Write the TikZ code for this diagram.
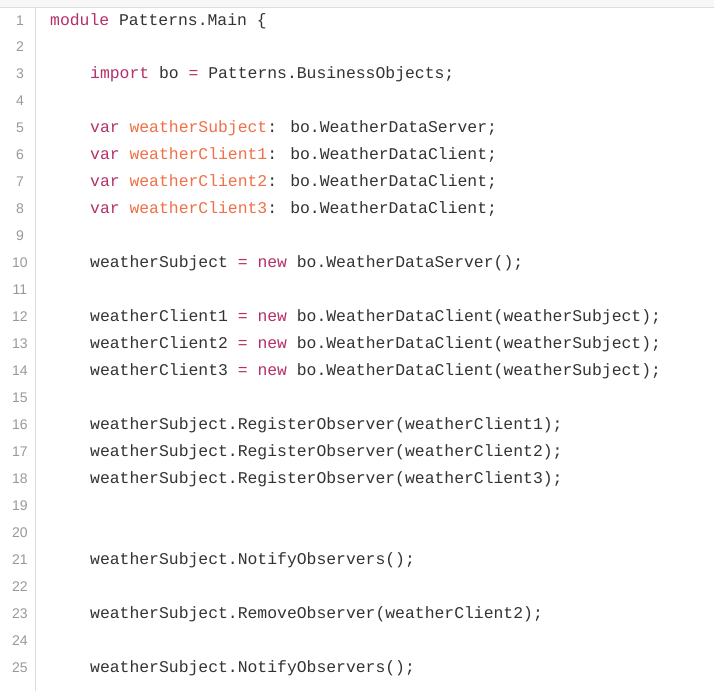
\documentclass[tikz,border=0pt]{standalone}
\usepackage{fontspec}
\newfontfamily\codefont{Liberation Mono}
\newfontfamily\numfont{Liberation Sans}
\definecolor{kw}{HTML}{B5306A}
\definecolor{vn}{HTML}{F07048}
\definecolor{tx}{HTML}{333333}
\definecolor{ln}{HTML}{999999}
\definecolor{rule}{HTML}{DDDDDD}
\newcommand{\K}[1]{\textcolor{kw}{#1}}
\newcommand{\V}[1]{\textcolor{vn}{#1}}
\begin{document}
\begin{tikzpicture}[x=1pt,y=-1pt,
  codeline/.style={anchor=base west,inner sep=0pt,text=tx,font=\codefont\fontsize{16.4}{18}\selectfont},
  lnum/.style={anchor=base,inner sep=0pt,text=ln,font=\numfont\fontsize{14}{16}\selectfont}]
\useasboundingbox (0,0) rectangle (714,691);
\fill[white] (0,0) rectangle (714,691);
\fill[black!3] (0,0) rectangle (714,7);
\draw[rule] (0,7) -- (714,7);
\draw[rule] (35,7) -- (35,691);
\foreach \i in {1,...,25}{
  \node[lnum] (n\i) at (20,{25+(\i-1)*26.96}) {\i};
}
\def\Y#1{{25+(#1-1)*26.96}}
\node[codeline] (l1) at (50,\Y1) {\K{module} Patterns.Main \{};
\node[codeline] (l3) at (90,\Y3) {\K{import} bo \K{=} Patterns.BusinessObjects;};
\node[codeline] (l5) at (90,\Y5) {\K{var} \V{weatherSubject}: bo.WeatherDataServer;};
\node[codeline] (l6) at (90,\Y6) {\K{var} \V{weatherClient1}: bo.WeatherDataClient;};
\node[codeline] (l7) at (90,\Y7) {\K{var} \V{weatherClient2}: bo.WeatherDataClient;};
\node[codeline] (l8) at (90,\Y8) {\K{var} \V{weatherClient3}: bo.WeatherDataClient;};
\node[codeline] (l10) at (90,\Y{10}) {weatherSubject \K{=} \K{new} bo.WeatherDataServer();};
\node[codeline] (l12) at (90,\Y{12}) {weatherClient1 \K{=} \K{new} bo.WeatherDataClient(weatherSubject);};
\node[codeline] (l13) at (90,\Y{13}) {weatherClient2 \K{=} \K{new} bo.WeatherDataClient(weatherSubject);};
\node[codeline] (l14) at (90,\Y{14}) {weatherClient3 \K{=} \K{new} bo.WeatherDataClient(weatherSubject);};
\node[codeline] (l16) at (90,\Y{16}) {weatherSubject.RegisterObserver(weatherClient1);};
\node[codeline] (l17) at (90,\Y{17}) {weatherSubject.RegisterObserver(weatherClient2);};
\node[codeline] (l18) at (90,\Y{18}) {weatherSubject.RegisterObserver(weatherClient3);};
\node[codeline] (l21) at (90,\Y{21}) {weatherSubject.NotifyObservers();};
\node[codeline] (l23) at (90,\Y{23}) {weatherSubject.RemoveObserver(weatherClient2);};
\node[codeline] (l25) at (90,\Y{25}) {weatherSubject.NotifyObservers();};
\end{tikzpicture}
\end{document}
